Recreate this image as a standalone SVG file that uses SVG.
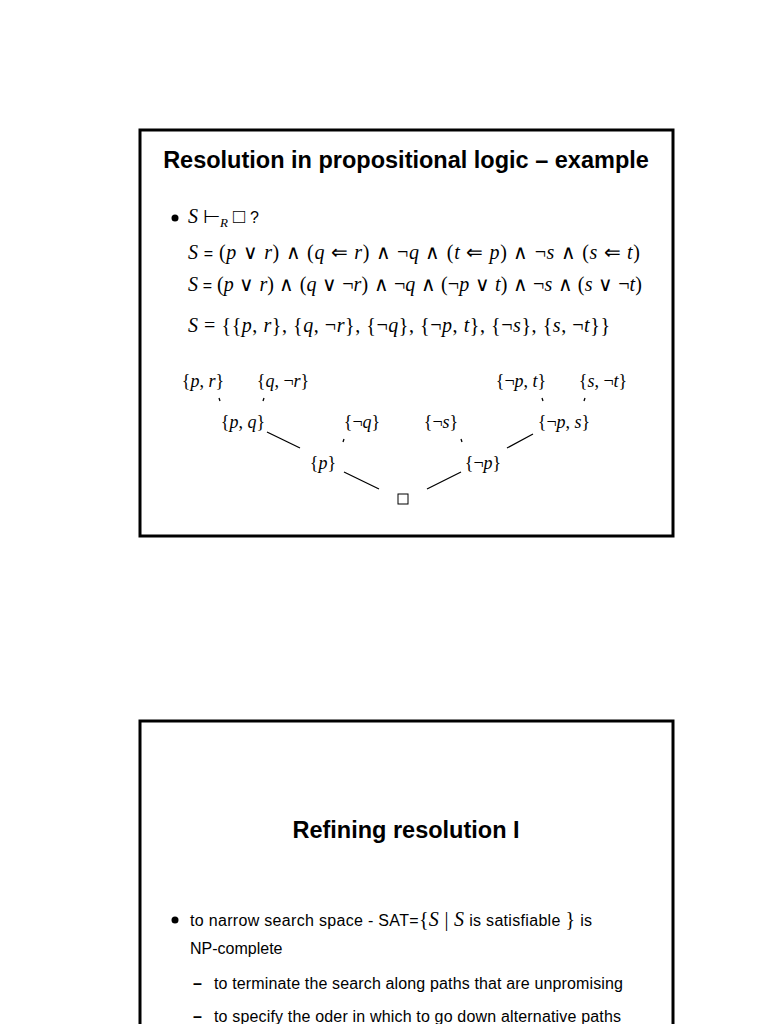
<svg xmlns="http://www.w3.org/2000/svg" width="768" height="1024" viewBox="0 0 768 1024">
<style>
.frame{fill:#fff;stroke:#000;stroke-width:3}
.t{font-family:"Liberation Sans",Arial,sans-serif;font-weight:bold;font-size:23.5px;text-anchor:middle}
.m{font-family:"Liberation Serif","Times New Roman",serif;font-size:20px}
.n{font-family:"Liberation Serif","Times New Roman",serif;font-size:18px;text-anchor:middle}
.s{font-family:"Liberation Sans",Arial,sans-serif;font-size:16px}
.e{stroke:#000;stroke-width:1.3;fill:none}
</style>
<rect width="768" height="1024" fill="#fff"/>
<rect class="frame" x="140" y="130" width="533" height="406"/>
<text class="t" x="406" y="168">Resolution in propositional logic – example</text>
<circle cx="175" cy="218" r="3.5"/>
<text class="m" x="188" y="223"><tspan font-style="italic">S</tspan> ⊢<tspan font-style="italic" font-size="13" dy="4">R</tspan><tspan dy="-4"> □ </tspan><tspan class="s" font-size="15">?</tspan></text>
<text class="m" x="188" y="259" textLength="452" lengthAdjust="spacing"><tspan font-style="italic">S</tspan><tspan class="s" font-size="15"> = </tspan>(<tspan font-style="italic">p</tspan> ∨ <tspan font-style="italic">r</tspan>) ∧ (<tspan font-style="italic">q</tspan> ⇐ <tspan font-style="italic">r</tspan>) ∧ ¬<tspan font-style="italic">q</tspan> ∧ (<tspan font-style="italic">t</tspan> ⇐ <tspan font-style="italic">p</tspan>) ∧ ¬<tspan font-style="italic">s</tspan> ∧ (<tspan font-style="italic">s</tspan> ⇐ <tspan font-style="italic">t</tspan>)</text>
<text class="m" x="188" y="291" textLength="454" lengthAdjust="spacing"><tspan font-style="italic">S</tspan><tspan class="s" font-size="15"> = </tspan>(<tspan font-style="italic">p</tspan> ∨ <tspan font-style="italic">r</tspan>) ∧ (<tspan font-style="italic">q</tspan> ∨ ¬<tspan font-style="italic">r</tspan>) ∧ ¬<tspan font-style="italic">q</tspan> ∧ (¬<tspan font-style="italic">p</tspan> ∨ <tspan font-style="italic">t</tspan>) ∧ ¬<tspan font-style="italic">s</tspan> ∧ (<tspan font-style="italic">s</tspan> ∨ ¬<tspan font-style="italic">t</tspan>)</text>
<text class="m" x="188" y="332" textLength="422" lengthAdjust="spacing"><tspan font-style="italic">S</tspan> = {{<tspan font-style="italic">p</tspan>, <tspan font-style="italic">r</tspan>}, {<tspan font-style="italic">q</tspan>, ¬<tspan font-style="italic">r</tspan>}, {¬<tspan font-style="italic">q</tspan>}, {¬<tspan font-style="italic">p</tspan>, <tspan font-style="italic">t</tspan>}, {¬<tspan font-style="italic">s</tspan>}, {<tspan font-style="italic">s</tspan>, ¬<tspan font-style="italic">t</tspan>}}</text>
<g id="connectors">
<path class="e" d="M219,398 L220,401 M264,398 L263,401 M542,398 L543,401 M585,398 L584,401"/>
<path class="e" d="M267,432 L300,448 M344,439 L343,442 M461,439 L462,442 M533,434 L507,448"/>
<path class="e" d="M344,472 L379,489 M427,489 L461,472"/>
</g>
<g id="n1"><text class="n" x="203" y="387">{<tspan font-style="italic">p</tspan>, <tspan font-style="italic">r</tspan>}</text></g>
<g id="n2"><text class="n" x="283" y="387">{<tspan font-style="italic">q</tspan>, ¬<tspan font-style="italic">r</tspan>}</text></g>
<g id="n3"><text class="n" x="521" y="387">{¬<tspan font-style="italic">p</tspan>, <tspan font-style="italic">t</tspan>}</text></g>
<g id="n4"><text class="n" x="603" y="387">{<tspan font-style="italic">s</tspan>, ¬<tspan font-style="italic">t</tspan>}</text></g>
<g id="n5"><text class="n" x="243" y="428">{<tspan font-style="italic">p</tspan>, <tspan font-style="italic">q</tspan>}</text></g>
<g id="n6"><text class="n" x="362" y="428">{¬<tspan font-style="italic">q</tspan>}</text></g>
<g id="n7"><text class="n" x="441" y="428">{¬<tspan font-style="italic">s</tspan>}</text></g>
<g id="n8"><text class="n" x="564" y="428">{¬<tspan font-style="italic">p</tspan>, <tspan font-style="italic">s</tspan>}</text></g>
<g id="n9"><text class="n" x="323" y="469">{<tspan font-style="italic">p</tspan>}</text></g>
<g id="n10"><text class="n" x="483" y="469">{¬<tspan font-style="italic">p</tspan>}</text></g>
<g id="n11"><rect x="398" y="494" width="10" height="10" fill="none" stroke="#000" stroke-width="1"/></g>
<rect class="frame" x="140" y="721" width="533" height="320"/>
<text class="t" x="406" y="838">Refining resolution I</text>
<circle cx="175" cy="920" r="3.5"/>
<text class="s" x="190" y="926" textLength="402" lengthAdjust="spacing">to narrow search space - SAT=<tspan class="m" font-size="24">{</tspan><tspan class="m" font-style="italic" font-size="20">S</tspan><tspan class="m" font-size="20"> | </tspan><tspan class="m" font-style="italic" font-size="20">S</tspan> is satisfiable <tspan class="m" font-size="24">}</tspan> is</text>
<text class="s" x="190" y="954">NP-complete</text>
<text class="s" x="193" y="989" font-weight="bold">–</text>
<text class="s" x="214" y="989" textLength="409" lengthAdjust="spacing">to terminate the search along paths that are unpromising</text>
<text class="s" x="193" y="1022" font-weight="bold">–</text>
<text class="s" x="214" y="1022" textLength="407" lengthAdjust="spacing">to specify the oder in which to go down alternative paths</text>
</svg>
